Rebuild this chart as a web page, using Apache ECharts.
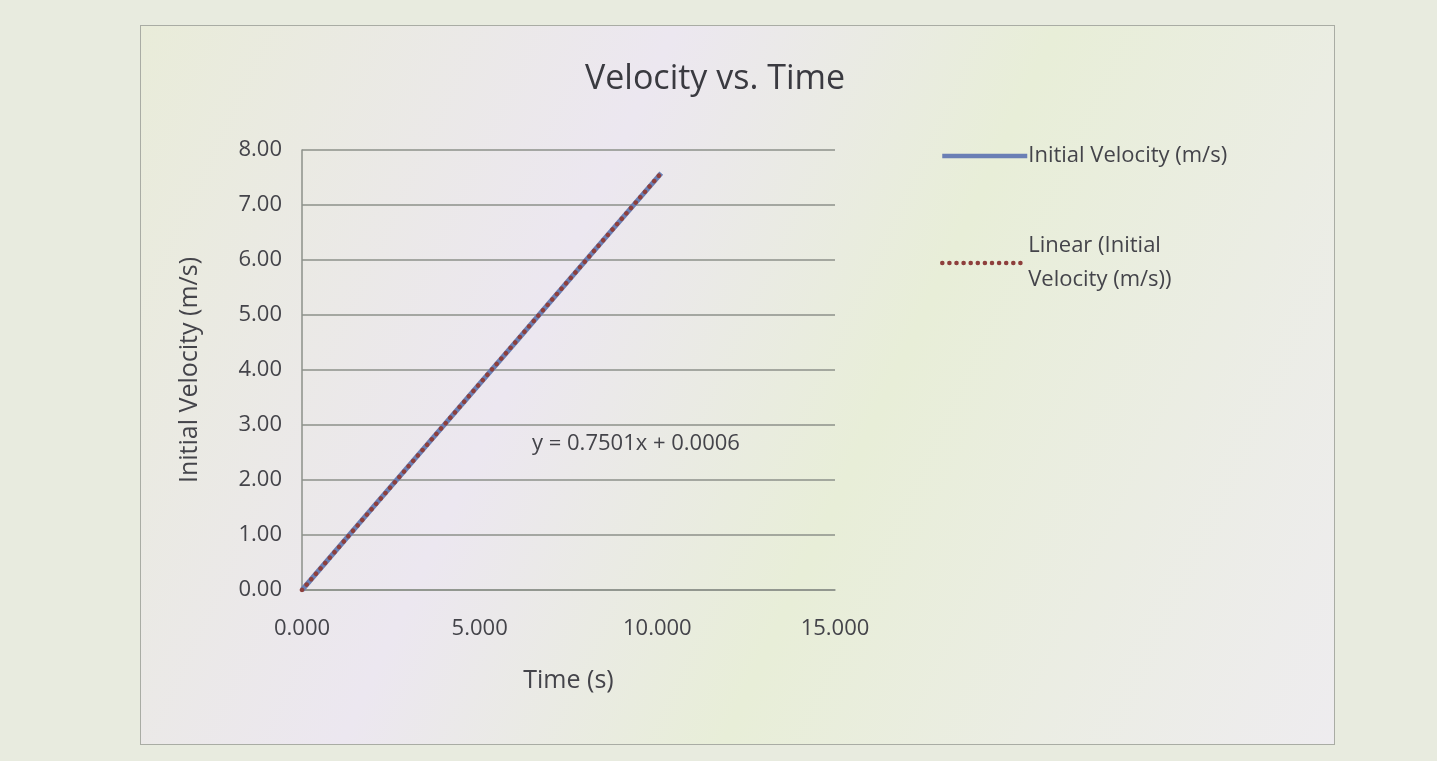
<!DOCTYPE html>
<html>
<head>
    <meta charset="UTF-8">
    <script src="https://cdn.jsdelivr.net/npm/echarts@6/dist/echarts.min.js"></script>
    <style>
        html, body { margin: 0; padding: 0; background: #e8ebdf; }
        #box {
            position: absolute; left: 140px; top: 25px; width: 1195px; height: 720px;
            border: 1px solid #a9aca4; box-sizing: border-box;
            background: linear-gradient(115deg, #e9ecd9 0%, #ece7f0 35%, #e8eed8 60%, #eeecef 100%);
        }
        #main { position: absolute; left: 0; top: 0; width: 1437px; height: 761px; }
    </style>
</head>
<body>
<div id="box"></div>
<div id="main"></div>
<script type="text/javascript">
    // measured points (time s, velocity m/s)
    var time = [0.000, 2.020, 4.050, 6.070, 8.090, 10.110];
    var velocity = [0.00, 1.52, 3.04, 4.55, 6.07, 7.58];
    // linear trendline end points
    var trendX = [0.000, 10.110];
    var trendY = [0.0006, 7.584];

    var pts = [];
    for (var i = 0; i < time.length; i++) pts.push([time[i], velocity[i]]);
    var trend = [];
    for (i = 0; i < trendX.length; i++) trend.push([trendX[i], trendY[i]]);

    var font = '"Open Sans", "Noto Sans", sans-serif';
    var myChart = echarts.init(document.getElementById('main'));
    var option = {
        backgroundColor: 'transparent',
        title: {
            text: 'Velocity vs. Time',
            left: 710, top: 57, textAlign: 'center',
            textStyle: {fontFamily: font, fontSize: 34, fontWeight: 'normal', color: '#3a3a40'}
        },
        grid: {left: 302, right: 1437 - 835, top: 150, bottom: 761 - 590},
        legend: {
            orient: 'vertical',
            left: 935, top: 134,
            itemWidth: 85, itemHeight: 14, itemGap: 56,
            data: ['Initial Velocity (m/s)', 'Linear (Initial Velocity (m/s))'],
            formatter: function (name) {
                return name === 'Linear (Initial Velocity (m/s))' ? 'Linear (Initial\nVelocity (m/s))' : name;
            },
            itemStyle: {opacity: 0},
            lineStyle: {width: 4.5},
            textStyle: {fontFamily: font, fontSize: 22, color: '#44444a', lineHeight: 34, padding: [0, 0, 0, -4]}
        },
        xAxis: {
            type: 'value', min: 0, max: 15, interval: 5,
            name: 'Time (s)', nameLocation: 'middle', nameGap: 78,
            nameTextStyle: {fontFamily: font, fontSize: 25, color: '#44444a'},
            axisLine: {show: true, lineStyle: {color: '#8c918a', width: 1.5}},
            axisTick: {show: false},
            splitLine: {show: false},
            axisLabel: {
                fontFamily: font, fontSize: 22, color: '#44444a', margin: 28,
                formatter: function (v) { return v.toFixed(3); }
            }
        },
        yAxis: {
            type: 'value', min: 0, max: 8, interval: 1,
            name: 'Initial Velocity (m/s)', nameLocation: 'middle', nameGap: 100,
            nameTextStyle: {fontFamily: font, fontSize: 25, color: '#44444a'},
            axisLine: {show: true, lineStyle: {color: '#8c918a', width: 1.5}},
            axisTick: {show: false},
            splitLine: {lineStyle: {color: '#8c918a', width: 1.5}},
            axisLabel: {
                fontFamily: font, fontSize: 22, color: '#44444a', margin: 20,
                formatter: function (v) { return v.toFixed(2); }
            }
        },
        graphic: [{
            type: 'text', left: 532, top: 433,
            style: {text: 'y = 0.7501x + 0.0006', font: '22px ' + font, fill: '#44444a'}
        }],
        series: [
            {
                name: 'Initial Velocity (m/s)',
                type: 'line',
                data: pts,
                symbol: 'none',
                lineStyle: {color: '#6a7fb5', width: 5},
                itemStyle: {color: '#6a7fb5'}
            },
            {
                name: 'Linear (Initial Velocity (m/s))',
                type: 'line',
                data: trend,
                symbol: 'none',
                lineStyle: {color: '#8e3f3c', width: 4.5, type: [0.1, 7], cap: 'round'},
                itemStyle: {color: '#8e3f3c'}
            }
        ]
    };
    myChart.setOption(option);
</script>
</body>
</html>
